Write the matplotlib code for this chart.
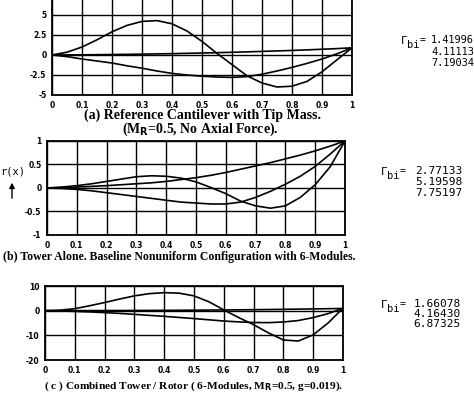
import numpy as np
import matplotlib
matplotlib.use("Agg")
import matplotlib.pyplot as plt

# ---------------- data ----------------
x = [0.0, 0.05, 0.1, 0.15, 0.2, 0.25, 0.3, 0.35, 0.4, 0.45, 0.5,
     0.55, 0.6, 0.65, 0.7, 0.75, 0.8, 0.85, 0.9, 0.95, 1.0]

# (a) Reference cantilever with tip mass
a_mode1 = [0, .01, .02, .04, .06, .08, .11, .14, .17, .21, .25,
           .29, .34, .39, .45, .51, .57, .64, .72, .80, .9]
a_mode2 = [0, -0.2, -0.5, -0.75, -1.0, -1.35, -1.65, -2.0, -2.3, -2.5, -2.65,
           -2.75, -2.8, -2.7, -2.4, -2.0, -1.55, -1.05, -0.5, 0.15, 0.9]
a_mode3 = [0, 0.35, 1.0, 1.9, 2.9, 3.7, 4.2, 4.3, 3.9, 3.0, 1.7,
           0.2, -1.2, -2.6, -3.5, -4.0, -3.9, -3.3, -2.1, -0.6, 0.9]

# (b) Tower alone
b_mode1 = [0, .01, .02, .035, .05, .07, .09, .11, .14, .18, .22,
           .27, .33, .40, .47, .54, .62, .70, .79, .89, 1.0]
b_mode2 = [0, -.01, -.03, -.06, -.1, -.14, -.18, -.22, -.26, -.3, -.32,
           -.34, -.34, -.30, -.2, -.07, .08, .25, .46, .72, 1.0]
b_mode3 = [0, .02, .05, .09, .14, .19, .24, .26, .25, .21, .13,
           .01, -.12, -.28, -.38, -.43, -.38, -.2, .07, .45, 1.0]

# (c) Combined tower / rotor
c_mode1 = [0, 0, .01, .02, .04, .06, .08, .1, .13, .16, .2,
           .24, .29, .34, .4, .47, .54, .62, .71, .8, .9]
c_mode2 = [0, -0.1, -0.3, -0.5, -0.8, -1.1, -1.5, -1.9, -2.3, -2.75, -3.2,
           -3.7, -4.2, -4.55, -4.8, -4.85, -4.6, -4.0, -2.8, -1.2, 1.0]
c_mode3 = [0, 0.2, 0.8, 2.0, 3.3, 4.7, 6.0, 6.9, 7.3, 7.1, 6.0,
           3.6, 0.3, -2.8, -5.7, -9.0, -11.9, -12.3, -9.8, -5.0, 1.0]

x_ticks = [0, 0.1, 0.2, 0.3, 0.4, 0.5, 0.6, 0.7, 0.8, 0.9, 1]
x_ticklabels = ["0", "0.1", "0.2", "0.3", "0.4", "0.5", "0.6", "0.7", "0.8", "0.9", "1"]
a_yticks = [-5, -2.5, 0, 2.5, 5, 7.5]
a_yticklabels = ["-5", "-2.5", "0", "2.5", "5", ""]
b_yticks = [-1, -0.5, 0, 0.5, 1]
b_yticklabels = ["-1", "-0.5", "0", "0.5", "1"]
c_yticks = [-20, -10, 0, 10]
c_yticklabels = ["-20", "-10", "0", "10"]

a_gamma = ["1.41996", "4.11113", "7.19034"]
b_gamma = ["2.77133", "5.19598", "7.75197"]
c_gamma = ["1.66078", "4.16430", "6.87325"]

# ---------------- figure ----------------
W, H = 474, 395
fig = plt.figure(figsize=(W / 100, H / 100), dpi=100)
fig.patch.set_facecolor("white")


def px_axes(left, right, top, bottom):
    return fig.add_axes([left / W, 1 - bottom / H, (right - left) / W, (bottom - top) / H])


def style(ax, yticks, ylabels, ylim):
    ax.set_xlim(0, 1)
    ax.set_ylim(*ylim)
    ax.set_xticks(x_ticks)
    ax.set_xticklabels(x_ticklabels)
    ax.set_yticks(yticks)
    ax.set_yticklabels(ylabels)
    ax.grid(True, color="black", linewidth=1.0)
    ax.set_axisbelow(True)
    for s in ax.spines.values():
        s.set_linewidth(1.3)
    ax.tick_params(length=0, pad=4, labelsize=5.5)
    for t in ax.get_xticklabels() + ax.get_yticklabels():
        t.set_fontweight("bold")


def curves(ax, m1, m2, m3):
    for m in (m1, m2, m3):
        ax.plot(x, m, color="black", linewidth=1.2, solid_capstyle="round")


# (a)
ax1 = px_axes(52, 352, -5, 95)
style(ax1, a_yticks, a_yticklabels, (-5, 7.5))
curves(ax1, a_mode1, a_mode2, a_mode3)

# (b)
ax2 = px_axes(47, 345, 141, 235)
style(ax2, b_yticks, b_yticklabels, (-1, 1))
curves(ax2, b_mode1, b_mode2, b_mode3)

# (c)
ax3 = px_axes(45, 343, 286, 360)
style(ax3, c_yticks, c_yticklabels, (-20, 10))
curves(ax3, c_mode1, c_mode2, c_mode3)


def ftext(px, py, s, **kw):
    fig.text(px / W, 1 - py / H, s, **kw)


serif = dict(family="Liberation Serif", fontweight="bold", fontsize=10,
             ha="center", va="center")
ftext(203, 115, "(a) Reference Cantilever with Tip Mass.", **serif)
ftext(200, 129, r"(M$_\mathbf{R}$=0.5, No Axial Force).", **serif)
ftext(179, 257, "(b) Tower Alone. Baseline Nonuniform Configuration with 6-Modules.",
      **dict(serif, fontsize=8.5))
ftext(194, 386, r"( c ) Combined Tower / Rotor ( 6-Modules, M$_\mathbf{R}$=0.5, g=0.019).",
      **dict(serif, fontsize=8.2))

# y-label of (b)
mono = dict(family="DejaVu Sans Mono", fontsize=7.5, va="center")
ftext(0, 172, "r(x)", **mono)
fig.patches.append(matplotlib.patches.FancyArrowPatch(
    (12 / W, 1 - 201 / H), (12 / W, 1 - 180 / H), transform=fig.transFigure,
    arrowstyle="-|>,head_length=3,head_width=1.6", color="black", linewidth=1.0))


def gamma_block(gx, gy, vals, right, dy, fs=8):
    ftext(gx, gy + 1, "Γ", family="DejaVu Sans Mono", fontsize=8, ha="left", va="center")
    ftext(gx + 6, gy + 5, "bi", family="DejaVu Sans Mono", fontsize=7.5, ha="left", va="center")
    ftext(gx + 19, gy, "=", family="DejaVu Sans Mono", fontsize=7, ha="left", va="center")
    for i, v in enumerate(vals):
        ftext(right, gy + i * dy, v, family="DejaVu Sans Mono", fontsize=fs,
              ha="right", va="center")


gamma_block(401, 40, a_gamma, 474, 11.7, fs=7.4)
gamma_block(381, 171, b_gamma, 462, 11)
gamma_block(381, 304, c_gamma, 461, 10)

fig.savefig("out.png", dpi=100, facecolor="white")
